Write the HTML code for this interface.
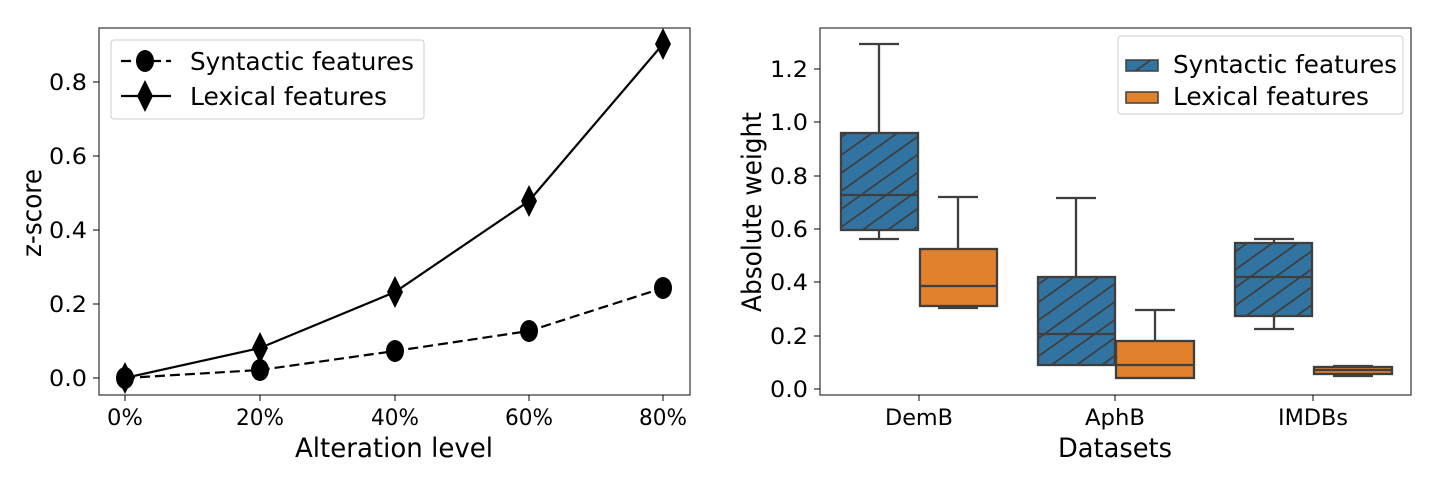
<!DOCTYPE html>
<html><head><meta charset="utf-8"><style>html,body{margin:0;padding:0;background:#fff}svg{display:block}text{font-family:"DejaVu Sans","Liberation Sans",sans-serif;fill:#000}</style></head>
<body>
<svg width="1439" height="482" viewBox="0 0 1439 482" xmlns="http://www.w3.org/2000/svg">
<defs>
<pattern id="h" patternUnits="userSpaceOnUse" width="18" height="18" patternTransform="scale(1.4,1)">
<rect width="18" height="18" fill="#3274a1"/>
<path d="M-2,20 L20,-2 M-11,11 L11,-11 M7,29 L29,7" stroke="#3f3f3f" stroke-width="1.6"/>
</pattern>
</defs>
<!-- LEFT -->
<rect x="99" y="28" width="591" height="367" fill="none" stroke="#333" stroke-width="1.2"/>
<g stroke="#000" stroke-width="1">
<line x1="93" y1="378" x2="99" y2="378"/><line x1="93" y1="304" x2="99" y2="304"/><line x1="93" y1="230" x2="99" y2="230"/><line x1="93" y1="156" x2="99" y2="156"/><line x1="93" y1="82" x2="99" y2="82"/>
<line x1="125" y1="395" x2="125" y2="401"/><line x1="260" y1="395" x2="260" y2="401"/><line x1="395" y1="395" x2="395" y2="401"/><line x1="529" y1="395" x2="529" y2="401"/><line x1="663" y1="395" x2="663" y2="401"/>
</g>
<g font-size="22" text-anchor="end">
<text x="87" y="386" textLength="38" lengthAdjust="spacingAndGlyphs">0.0</text>
<text x="87" y="312" textLength="38" lengthAdjust="spacingAndGlyphs">0.2</text>
<text x="87" y="238" textLength="38" lengthAdjust="spacingAndGlyphs">0.4</text>
<text x="87" y="164" textLength="38" lengthAdjust="spacingAndGlyphs">0.6</text>
<text x="87" y="90" textLength="38" lengthAdjust="spacingAndGlyphs">0.8</text>
</g>
<g font-size="22" text-anchor="middle">
<text x="125" y="425" textLength="36" lengthAdjust="spacingAndGlyphs">0%</text>
<text x="260" y="425" textLength="48" lengthAdjust="spacingAndGlyphs">20%</text>
<text x="395" y="425" textLength="48" lengthAdjust="spacingAndGlyphs">40%</text>
<text x="529" y="425" textLength="48" lengthAdjust="spacingAndGlyphs">60%</text>
<text x="663" y="425" textLength="48" lengthAdjust="spacingAndGlyphs">80%</text>
</g>
<text x="394" y="457" font-size="27" text-anchor="middle" textLength="198" lengthAdjust="spacingAndGlyphs">Alteration level</text>
<text transform="translate(41,213) rotate(-90)" font-size="27" text-anchor="middle" textLength="88" lengthAdjust="spacingAndGlyphs">z-score</text>
<polyline points="125,378 260,370 395,351 529,331 663,288" fill="none" stroke="#000" stroke-width="2.2" stroke-dasharray="10,5"/>
<polyline points="125,378 260,348 395,292 529,201 663,44" fill="none" stroke="#000" stroke-width="2.2"/>
<g fill="#000">
<ellipse cx="125" cy="378" rx="9" ry="11"/><ellipse cx="260" cy="370" rx="9" ry="11"/><ellipse cx="395" cy="351" rx="9" ry="11"/><ellipse cx="529" cy="331" rx="9" ry="11"/><ellipse cx="663" cy="288" rx="9" ry="11"/>
<path d="M125,362 L133,378 L125,394 L117,378Z"/><path d="M260,332 L268,348 L260,364 L252,348Z"/><path d="M395,276 L403,292 L395,308 L387,292Z"/><path d="M529,185 L537,201 L529,217 L521,201Z"/><path d="M663,28 L671,44 L663,60 L655,44Z"/>
</g>
<rect x="111" y="40" width="313" height="79" rx="3" fill="#fff" fill-opacity="0.8" stroke="#ccc"/>
<line x1="121" y1="61" x2="171" y2="61" stroke="#000" stroke-width="2.2" stroke-dasharray="10,5"/>
<ellipse cx="145" cy="61" rx="9" ry="11"/>
<line x1="121" y1="96" x2="171" y2="96" stroke="#000" stroke-width="2.2"/>
<path d="M145,80 L153,96 L145,112 L137,96Z"/>
<text x="190" y="70" font-size="25" textLength="224" lengthAdjust="spacingAndGlyphs">Syntactic features</text>
<text x="190" y="105" font-size="25" textLength="197" lengthAdjust="spacingAndGlyphs">Lexical features</text>

<!-- RIGHT -->
<rect x="820" y="28" width="591" height="367" fill="none" stroke="#333" stroke-width="1.2"/>
<g stroke="#000" stroke-width="1">
<line x1="814" y1="389" x2="820" y2="389"/><line x1="814" y1="336" x2="820" y2="336"/><line x1="814" y1="282" x2="820" y2="282"/><line x1="814" y1="229" x2="820" y2="229"/><line x1="814" y1="176" x2="820" y2="176"/><line x1="814" y1="122" x2="820" y2="122"/><line x1="814" y1="69" x2="820" y2="69"/>
<line x1="919" y1="395" x2="919" y2="401"/><line x1="1115" y1="395" x2="1115" y2="401"/><line x1="1313" y1="395" x2="1313" y2="401"/>
</g>
<g font-size="22" text-anchor="end">
<text x="808" y="397" textLength="38" lengthAdjust="spacingAndGlyphs">0.0</text>
<text x="808" y="344" textLength="38" lengthAdjust="spacingAndGlyphs">0.2</text>
<text x="808" y="290" textLength="38" lengthAdjust="spacingAndGlyphs">0.4</text>
<text x="808" y="237" textLength="38" lengthAdjust="spacingAndGlyphs">0.6</text>
<text x="808" y="184" textLength="38" lengthAdjust="spacingAndGlyphs">0.8</text>
<text x="808" y="130" textLength="38" lengthAdjust="spacingAndGlyphs">1.0</text>
<text x="808" y="77" textLength="38" lengthAdjust="spacingAndGlyphs">1.2</text>
</g>
<g font-size="22" text-anchor="middle">
<text x="919" y="425" textLength="68" lengthAdjust="spacingAndGlyphs">DemB</text>
<text x="1115" y="425" textLength="60" lengthAdjust="spacingAndGlyphs">AphB</text>
<text x="1313" y="425" textLength="70" lengthAdjust="spacingAndGlyphs">IMDBs</text>
</g>
<text x="1115" y="457" font-size="27" text-anchor="middle" textLength="114" lengthAdjust="spacingAndGlyphs">Datasets</text>
<text transform="translate(761,212) rotate(-90)" font-size="27" text-anchor="middle" textLength="200" lengthAdjust="spacingAndGlyphs">Absolute weight</text>
<g stroke="#3f3f3f" stroke-width="2.3">
<line x1="879" y1="44" x2="879" y2="133"/><line x1="859" y1="44" x2="899" y2="44"/>
<line x1="879" y1="230" x2="879" y2="239"/><line x1="859" y1="239" x2="899" y2="239"/>
<rect x="841" y="133" width="77" height="97" fill="url(#h)"/><line x1="841" y1="195" x2="918" y2="195"/>
<line x1="958" y1="197" x2="958" y2="249"/><line x1="938" y1="197" x2="978" y2="197"/>
<line x1="938" y1="308" x2="978" y2="308"/>
<rect x="920" y="249" width="77" height="57" fill="#e1812c"/><line x1="920" y1="286" x2="997" y2="286"/>
<line x1="1076" y1="198" x2="1076" y2="277"/><line x1="1056" y1="198" x2="1096" y2="198"/>
<rect x="1038" y="277" width="77" height="88" fill="url(#h)"/><line x1="1038" y1="334" x2="1115" y2="334"/>
<line x1="1155" y1="310" x2="1155" y2="341"/><line x1="1135" y1="310" x2="1175" y2="310"/>
<rect x="1116" y="341" width="78" height="37" fill="#e1812c"/><line x1="1116" y1="365" x2="1194" y2="365"/>
<line x1="1274" y1="239" x2="1274" y2="243"/><line x1="1254" y1="239" x2="1294" y2="239"/>
<line x1="1274" y1="316" x2="1274" y2="329"/><line x1="1254" y1="329" x2="1294" y2="329"/>
<rect x="1235" y="243" width="77" height="73" fill="url(#h)"/><line x1="1235" y1="277" x2="1312" y2="277"/>
<line x1="1333" y1="366" x2="1373" y2="366"/><line x1="1333" y1="376" x2="1373" y2="376"/>
<rect x="1314" y="367" width="78" height="7" fill="#e1812c"/><line x1="1314" y1="370" x2="1392" y2="370"/>
</g>
<rect x="1118" y="36" width="285" height="78" rx="3" fill="#fff" fill-opacity="0.8" stroke="#ccc"/>
<rect x="1126" y="60" width="32" height="11" fill="url(#h)" stroke="#3f3f3f" stroke-width="1.5"/>
<rect x="1126" y="92" width="32" height="11" fill="#e1812c" stroke="#3f3f3f" stroke-width="1.5"/>
<text x="1173" y="73" font-size="25" textLength="224" lengthAdjust="spacingAndGlyphs">Syntactic features</text>
<text x="1173" y="105" font-size="25" textLength="196" lengthAdjust="spacingAndGlyphs">Lexical features</text>
</svg>
</body></html>
